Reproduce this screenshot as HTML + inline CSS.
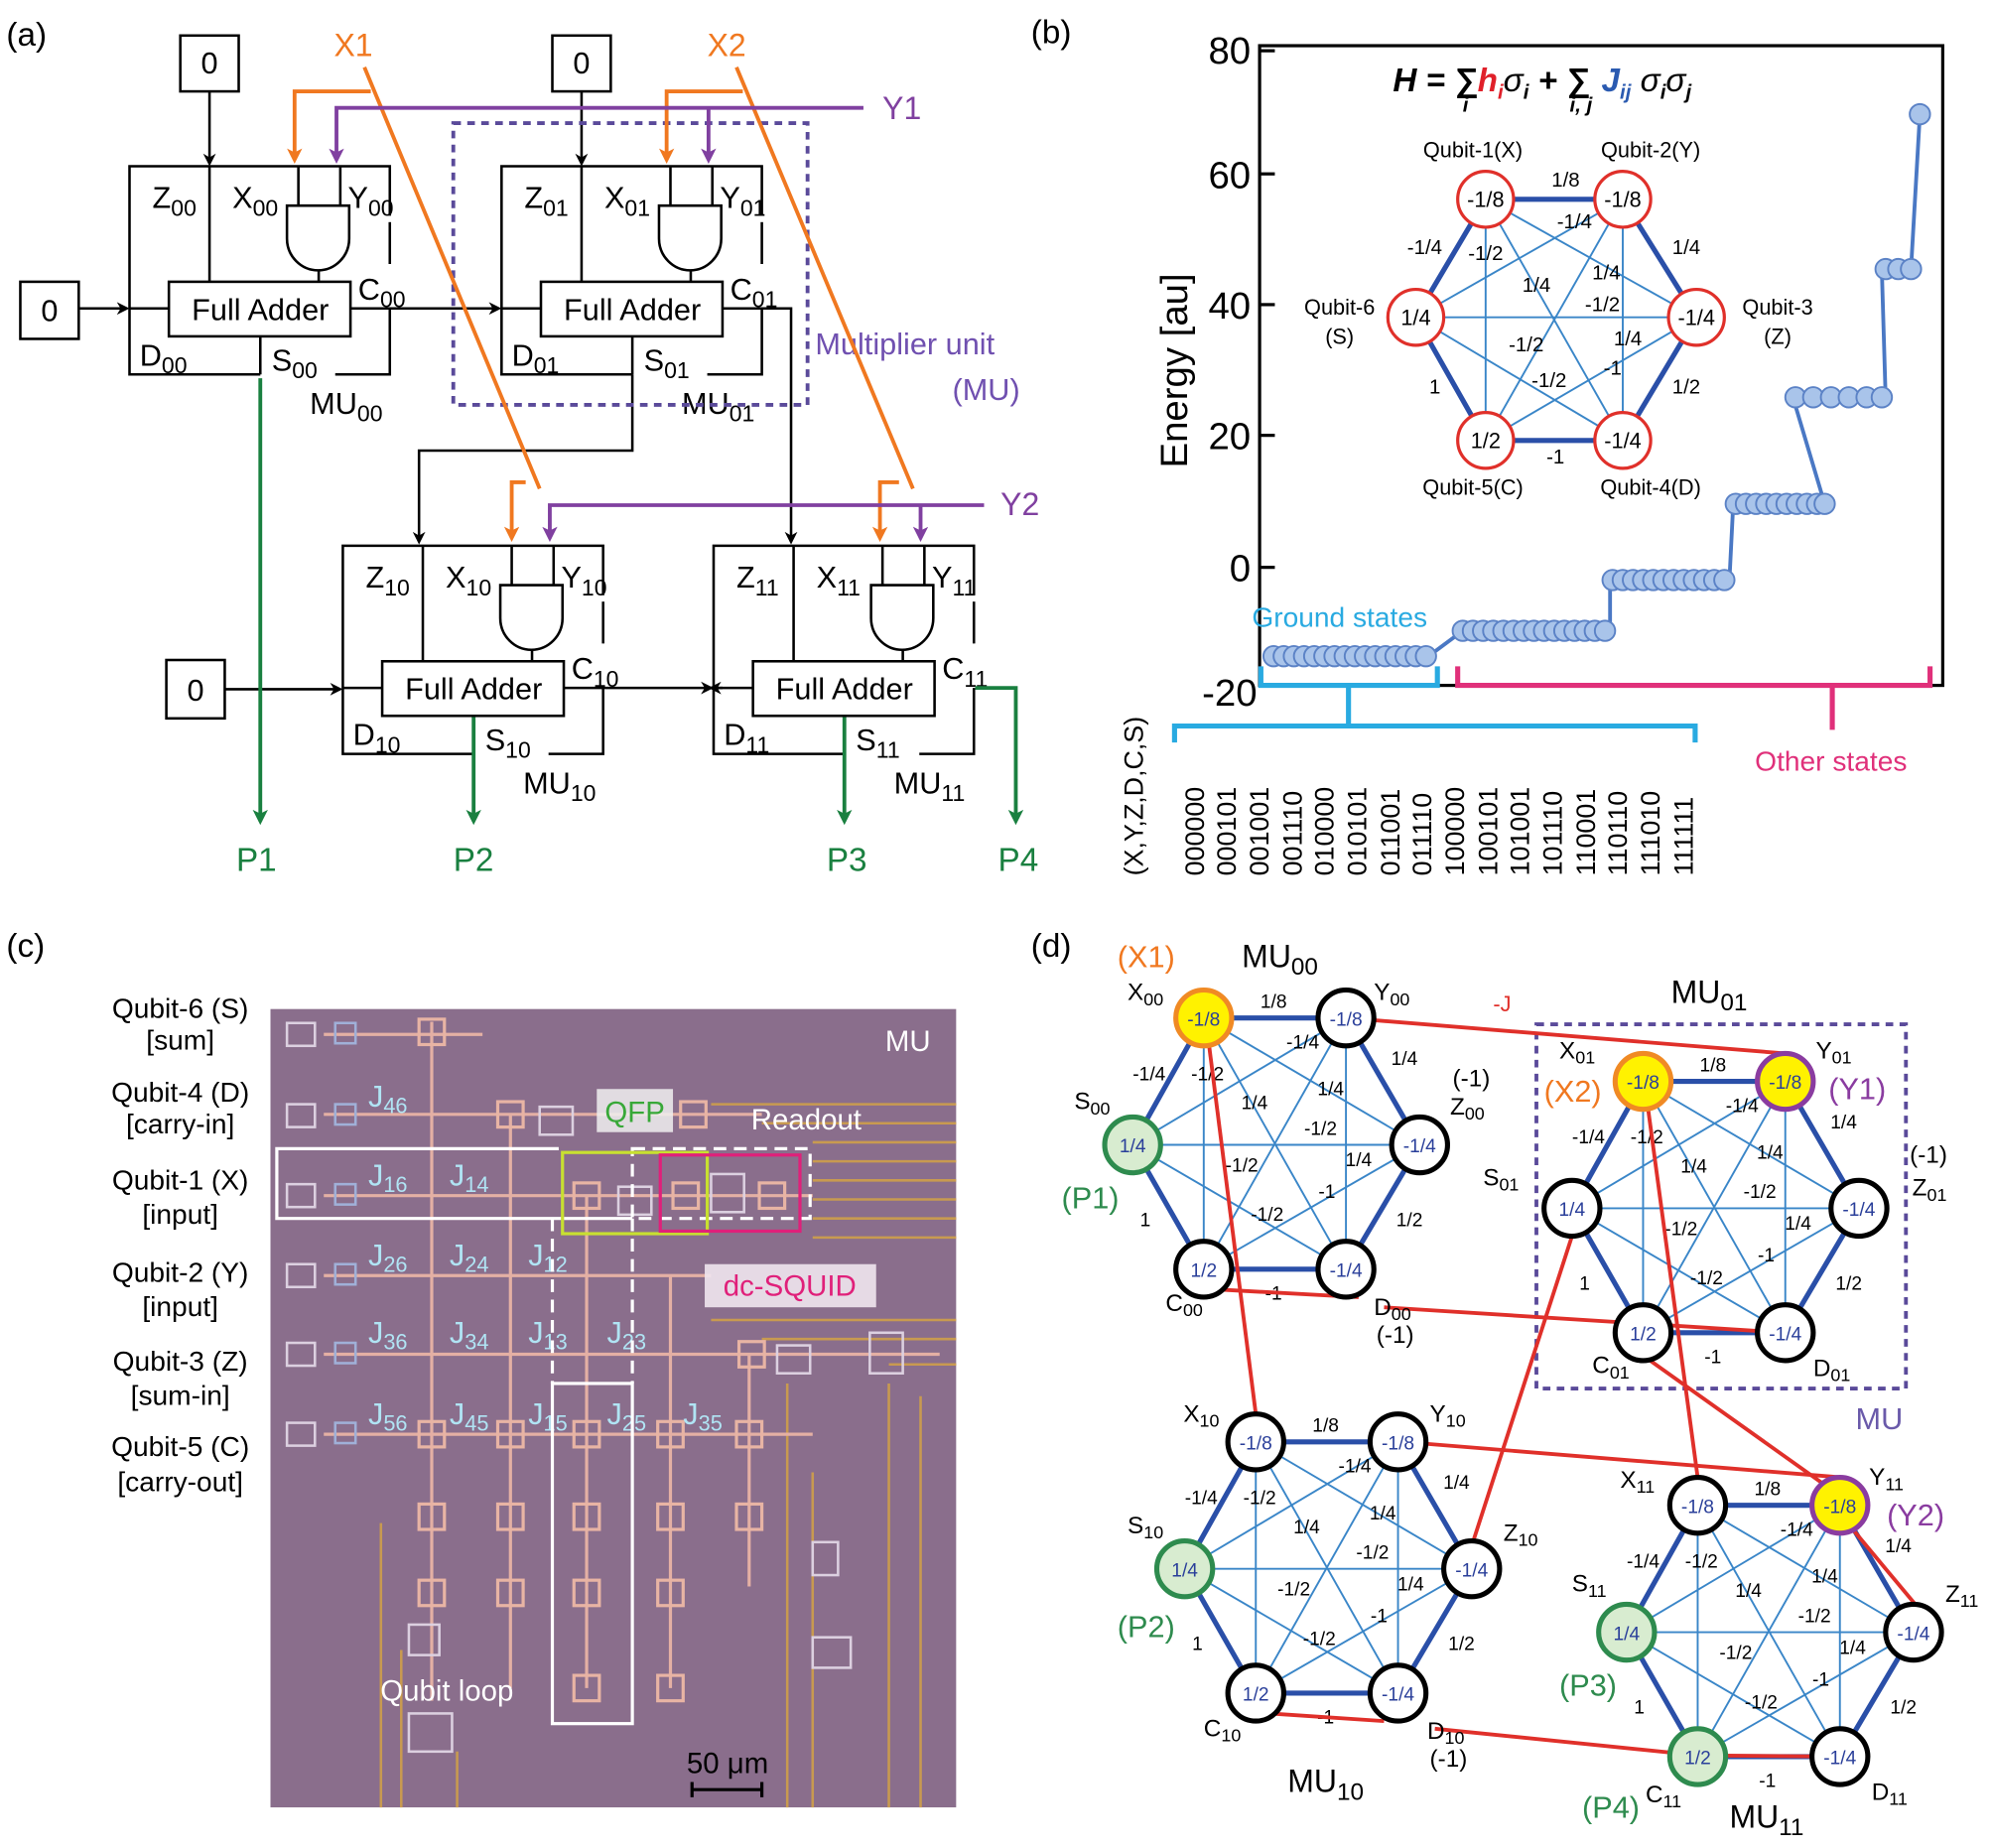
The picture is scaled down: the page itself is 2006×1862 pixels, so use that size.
<!DOCTYPE html>
<html><head><meta charset="utf-8"><style>
html,body{margin:0;padding:0;background:#fff}
svg{display:block}
text{font-family:"Liberation Sans",sans-serif}
</style></head><body>
<svg width="2006" height="1862" viewBox="0 0 1568 1456" preserveAspectRatio="none" xmlns="http://www.w3.org/2000/svg">
<defs>
<marker id="ak" markerWidth="10" markerHeight="10" refX="8" refY="5" orient="auto" markerUnits="userSpaceOnUse"><path d="M0,0 L10,5 L0,10 L3,5z" fill="#000"/></marker>
<marker id="ao" markerWidth="12" markerHeight="12" refX="9" refY="6" orient="auto" markerUnits="userSpaceOnUse"><path d="M0,0 L12,6 L0,12 L3,6z" fill="#f07820"/></marker>
<marker id="ap" markerWidth="12" markerHeight="12" refX="9" refY="6" orient="auto" markerUnits="userSpaceOnUse"><path d="M0,0 L12,6 L0,12 L3,6z" fill="#8040a0"/></marker>
<marker id="ag" markerWidth="12" markerHeight="12" refX="9" refY="6" orient="auto" markerUnits="userSpaceOnUse"><path d="M0,0 L12,6 L0,12 L3,6z" fill="#1a8040"/></marker>
</defs>

<!-- ===== Panel (a) ===== -->
<g font-size="24" fill="#000">
<text x="5" y="36" font-size="26">(a)</text>
<g stroke="#000" stroke-width="2" fill="none">
<rect x="142" y="28" width="46" height="44"/>
<rect x="435" y="28" width="46" height="44"/>
<rect x="16" y="222" width="46" height="45"/>
<rect x="131" y="520" width="46" height="46"/>
</g>
<text x="165" y="58" text-anchor="middle">0</text>
<text x="458" y="58" text-anchor="middle">0</text>
<text x="39" y="253" text-anchor="middle">0</text>
<text x="154" y="552" text-anchor="middle">0</text>

<!-- MU blocks -->
<g id="mu00">
<g stroke="#000" stroke-width="2" fill="none">
<path d="M307,170 V131 H102 V295 H205 M264,295 H307 V243"/>
<path d="M307,175 V208"/>
<line x1="165" y1="131" x2="165" y2="222"/>
<path d="M235,131 V162 M268,131 V162"/>
<path d="M226,162 H275 V188 A24.5,25 0 0 1 226,188 Z"/>
<line x1="251" y1="213" x2="251" y2="222"/>
<rect x="133" y="222" width="143" height="43"/>
<line x1="102" y1="243" x2="133" y2="243"/>
<line x1="205" y1="265" x2="205" y2="295"/>
</g>
<text x="205" y="252" text-anchor="middle" font-size="24">Full Adder</text>
</g>
<g transform="translate(293,0)">
<g stroke="#000" stroke-width="2" fill="none">
<path d="M307,170 V131 H102 V295 H205 M264,295 H307 V243"/>
<path d="M307,175 V208"/>
<line x1="165" y1="131" x2="165" y2="222"/>
<path d="M235,131 V162 M268,131 V162"/>
<path d="M226,162 H275 V188 A24.5,25 0 0 1 226,188 Z"/>
<line x1="251" y1="213" x2="251" y2="222"/>
<rect x="133" y="222" width="143" height="43"/>
<line x1="102" y1="243" x2="133" y2="243"/>
<line x1="205" y1="265" x2="205" y2="295"/>
</g>
<text x="205" y="252" text-anchor="middle" font-size="24">Full Adder</text>
</g>
<g transform="translate(168,299)">
<g stroke="#000" stroke-width="2" fill="none">
<path d="M307,170 V131 H102 V295 H205 M264,295 H307 V243"/>
<path d="M307,175 V208"/>
<line x1="165" y1="131" x2="165" y2="222"/>
<path d="M235,131 V162 M268,131 V162"/>
<path d="M226,162 H275 V188 A24.5,25 0 0 1 226,188 Z"/>
<line x1="251" y1="213" x2="251" y2="222"/>
<rect x="133" y="222" width="143" height="43"/>
<line x1="102" y1="243" x2="133" y2="243"/>
<line x1="205" y1="265" x2="205" y2="295"/>
</g>
<text x="205" y="252" text-anchor="middle" font-size="24">Full Adder</text>
</g>
<g transform="translate(460,299)">
<g stroke="#000" stroke-width="2" fill="none">
<path d="M307,170 V131 H102 V295 H205 M264,295 H307 V243"/>
<path d="M307,175 V208"/>
<line x1="165" y1="131" x2="165" y2="222"/>
<path d="M235,131 V162 M268,131 V162"/>
<path d="M226,162 H275 V188 A24.5,25 0 0 1 226,188 Z"/>
<line x1="251" y1="213" x2="251" y2="222"/>
<rect x="133" y="222" width="143" height="43"/>
<line x1="102" y1="243" x2="133" y2="243"/>
<line x1="205" y1="265" x2="205" y2="295"/>
</g>
<text x="205" y="252" text-anchor="middle" font-size="24">Full Adder</text>
</g>

<!-- black arrows -->
<g stroke="#000" stroke-width="2" fill="none" marker-end="url(#ak)">
<line x1="165" y1="72" x2="165" y2="129"/>
<line x1="458" y1="72" x2="458" y2="129"/>
<line x1="62" y1="243" x2="100" y2="243"/>
<line x1="276" y1="243" x2="393" y2="243"/>
<line x1="177" y1="543" x2="268" y2="543"/>
<line x1="569" y1="542" x2="560" y2="542"/>
<line x1="444" y1="542" x2="560" y2="542"/>
<path d="M498,295 V355 H330 V427"/>
<path d="M569,243 H623 V427"/>
</g>

<!-- labels -->
<g font-size="24">
<text x="120" y="164">Z<tspan font-size="18" dy="6">00</tspan></text>
<text x="183" y="164">X<tspan font-size="18" dy="6">00</tspan></text>
<text x="274" y="164">Y<tspan font-size="18" dy="6">00</tspan></text>
<text x="282" y="236">C<tspan font-size="18" dy="6">00</tspan></text>
<text x="110" y="288">D<tspan font-size="18" dy="6">00</tspan></text>
<text x="214" y="292">S<tspan font-size="18" dy="6">00</tspan></text>
<text x="244" y="326">MU<tspan font-size="18" dy="6">00</tspan></text>

<text x="413" y="164">Z<tspan font-size="18" dy="6">01</tspan></text>
<text x="476" y="164">X<tspan font-size="18" dy="6">01</tspan></text>
<text x="567" y="164">Y<tspan font-size="18" dy="6">01</tspan></text>
<text x="575" y="236">C<tspan font-size="18" dy="6">01</tspan></text>
<text x="403" y="288">D<tspan font-size="18" dy="6">01</tspan></text>
<text x="507" y="292">S<tspan font-size="18" dy="6">01</tspan></text>
<text x="537" y="326">MU<tspan font-size="18" dy="6">01</tspan></text>

<text x="288" y="463">Z<tspan font-size="18" dy="6">10</tspan></text>
<text x="351" y="463">X<tspan font-size="18" dy="6">10</tspan></text>
<text x="442" y="463">Y<tspan font-size="18" dy="6">10</tspan></text>
<text x="450" y="535">C<tspan font-size="18" dy="6">10</tspan></text>
<text x="278" y="587">D<tspan font-size="18" dy="6">10</tspan></text>
<text x="382" y="591">S<tspan font-size="18" dy="6">10</tspan></text>
<text x="412" y="625">MU<tspan font-size="18" dy="6">10</tspan></text>

<text x="580" y="463">Z<tspan font-size="18" dy="6">11</tspan></text>
<text x="643" y="463">X<tspan font-size="18" dy="6">11</tspan></text>
<text x="734" y="463">Y<tspan font-size="18" dy="6">11</tspan></text>
<text x="742" y="535">C<tspan font-size="18" dy="6">11</tspan></text>
<text x="570" y="587">D<tspan font-size="18" dy="6">11</tspan></text>
<text x="674" y="591">S<tspan font-size="18" dy="6">11</tspan></text>
<text x="704" y="625">MU<tspan font-size="18" dy="6">11</tspan></text>
</g>

<!-- dashed MU rect -->
<rect x="357" y="97" width="279" height="222" fill="none" stroke="#5a4a9a" stroke-width="3" stroke-dasharray="6,5"/>
<text x="642" y="279" fill="#7050b0" font-size="24">Multiplier unit</text>
<text x="750" y="315" fill="#7050b0" font-size="24">(MU)</text>

<!-- orange -->
<g stroke="#f07820" stroke-width="3" fill="none">
<line x1="287" y1="53" x2="425" y2="385"/>
<line x1="580" y1="53" x2="719" y2="385"/>
<path d="M292,72 H232 V126" marker-end="url(#ao)"/>
<path d="M585,72 H525 V126" marker-end="url(#ao)"/>
<path d="M414,380 H403 V424" marker-end="url(#ao)"/>
<path d="M708,380 H693 V424" marker-end="url(#ao)"/>
</g>
<text x="263" y="44" fill="#f07820" font-size="25">X1</text>
<text x="557" y="44" fill="#f07820" font-size="25">X2</text>
<!-- purple -->
<g stroke="#8040a0" stroke-width="3" fill="none">
<path d="M680,85 H265 V126" marker-end="url(#ap)"/>
<path d="M558,85 V126" marker-end="url(#ap)"/>
<path d="M775,398 H433 V424" marker-end="url(#ap)"/>
<path d="M725,398 V424" marker-end="url(#ap)"/>
</g>
<text x="695" y="94" fill="#8040a0" font-size="25">Y1</text>
<text x="788" y="406" fill="#8040a0" font-size="25">Y2</text>
<!-- green -->
<g stroke="#1a8040" stroke-width="3" fill="none">
<line x1="205" y1="298" x2="205" y2="647" marker-end="url(#ag)"/>
<line x1="373" y1="565" x2="373" y2="647" marker-end="url(#ag)"/>
<line x1="665" y1="565" x2="665" y2="647" marker-end="url(#ag)"/>
<path d="M768,542 H800 V647" marker-end="url(#ag)"/>
</g>
<g fill="#1a8040" font-size="26">
<text x="186" y="686">P1</text>
<text x="357" y="686">P2</text>
<text x="651" y="686">P3</text>
<text x="786" y="686">P4</text>
</g>
</g>

<!-- ===== Panel (b) ===== -->
<g>
<text x="812" y="34" font-size="26">(b)</text>
<rect x="992" y="36" width="538" height="504" fill="none" stroke="#000" stroke-width="2.5"/>
<g stroke="#000" stroke-width="2.5">
<line x1="992" y1="40" x2="1004" y2="40"/><line x1="992" y1="137" x2="1004" y2="137"/>
<line x1="992" y1="240" x2="1004" y2="240"/><line x1="992" y1="343" x2="1004" y2="343"/>
<line x1="992" y1="447" x2="1004" y2="447"/>
</g>
<g font-size="30" text-anchor="end">
<text x="985" y="50">80</text><text x="985" y="148">60</text><text x="985" y="251">40</text>
<text x="985" y="354">20</text><text x="985" y="458">0</text><text x="990" y="556">-20</text>
</g>
<text transform="translate(935,292) rotate(-90)" font-size="30" text-anchor="middle">Energy [au]</text>
<text x="1097" y="72" font-size="26" font-family="Liberation Serif" font-style="italic" font-weight="bold">H = ∑<tspan font-size="16" dx="-12" dy="16">i</tspan><tspan dy="-16" fill="#e0202a"> h</tspan><tspan font-size="16" dy="6" fill="#e0202a">i</tspan><tspan dy="-6" font-weight="normal">σ</tspan><tspan font-size="16" dy="6">i</tspan><tspan dy="-6">  + ∑</tspan><tspan font-size="16" dx="-16" dy="16">i, j</tspan><tspan dy="-16" fill="#2a5ab0"> J</tspan><tspan font-size="16" dy="6" fill="#2a5ab0">ij</tspan><tspan dy="-6" font-weight="normal"> σ</tspan><tspan font-size="16" dy="6">i</tspan><tspan dy="-6" font-weight="normal">σ</tspan><tspan font-size="16" dy="6">j</tspan></text>
<!-- qubit hex -->
<g stroke-width="1.5" stroke="#3a86c8">
<line x1="1170" y1="157" x2="1336" y2="250"/><line x1="1170" y1="157" x2="1278" y2="347"/><line x1="1170" y1="157" x2="1170" y2="347"/>
<line x1="1278" y1="157" x2="1278" y2="347"/><line x1="1278" y1="157" x2="1170" y2="347"/><line x1="1278" y1="157" x2="1115" y2="250"/>
<line x1="1336" y1="250" x2="1170" y2="347"/><line x1="1336" y1="250" x2="1115" y2="250"/><line x1="1278" y1="347" x2="1115" y2="250"/>
</g>
<polygon points="1170,157 1278,157 1336,250 1278,347 1170,347 1115,250" fill="none" stroke="#2a4fa8" stroke-width="4"/>
<g fill="#fff" stroke="#e0302a" stroke-width="2.5">
<circle cx="1170" cy="157" r="22"/><circle cx="1278" cy="157" r="22"/><circle cx="1336" cy="250" r="22"/>
<circle cx="1278" cy="347" r="22"/><circle cx="1170" cy="347" r="22"/><circle cx="1115" cy="250" r="22"/>
</g>
<g font-size="17" text-anchor="middle">
<text x="1170" y="163">-1/8</text><text x="1278" y="163">-1/8</text><text x="1336" y="256">-1/4</text>
<text x="1278" y="353">-1/4</text><text x="1170" y="353">1/2</text><text x="1115" y="256">1/4</text>
</g>
<g font-size="17" text-anchor="middle">
<text x="1160" y="124">Qubit-1(X)</text><text x="1300" y="124">Qubit-2(Y)</text>
<text x="1055" y="248">Qubit-6</text><text x="1055" y="271">(S)</text>
<text x="1400" y="248">Qubit-3</text><text x="1400" y="271">(Z)</text>
<text x="1160" y="390">Qubit-5(C)</text><text x="1300" y="390">Qubit-4(D)</text>
</g>
<g font-size="16" text-anchor="middle">
<text x="1233" y="147">1/8</text><text x="1122" y="200">-1/4</text><text x="1170" y="205">-1/2</text>
<text x="1240" y="180">-1/4</text><text x="1328" y="200">1/4</text><text x="1210" y="230">1/4</text>
<text x="1265" y="220">1/4</text><text x="1262" y="245">-1/2</text><text x="1202" y="277">-1/2</text>
<text x="1282" y="272">1/4</text><text x="1220" y="305">-1/2</text><text x="1270" y="295">-1</text>
<text x="1130" y="310">1</text><text x="1328" y="310">1/2</text><text x="1225" y="365">-1</text>
</g>
<!-- data -->
<path d="M1003,517 H1125 L1152,497 H1268 L1268,457 H1362 L1365,397 H1437 L1412,313 H1485 L1482,212 H1505 L1512,90" fill="none" stroke="#4a78c4" stroke-width="3"/>
<g fill="#a9c4ea" stroke="#5b82c6" stroke-width="1.5">
<circle cx="1003" cy="517" r="8"/><circle cx="1011" cy="517" r="8"/><circle cx="1019" cy="517" r="8"/><circle cx="1027" cy="517" r="8"/><circle cx="1035" cy="517" r="8"/><circle cx="1043" cy="517" r="8"/><circle cx="1051" cy="517" r="8"/><circle cx="1059" cy="517" r="8"/><circle cx="1067" cy="517" r="8"/><circle cx="1075" cy="517" r="8"/><circle cx="1083" cy="517" r="8"/><circle cx="1091" cy="517" r="8"/><circle cx="1099" cy="517" r="8"/><circle cx="1107" cy="517" r="8"/><circle cx="1115" cy="517" r="8"/><circle cx="1123" cy="517" r="8"/>
<circle cx="1152" cy="497" r="8"/><circle cx="1160" cy="497" r="8"/><circle cx="1168" cy="497" r="8"/><circle cx="1176" cy="497" r="8"/><circle cx="1184" cy="497" r="8"/><circle cx="1192" cy="497" r="8"/><circle cx="1200" cy="497" r="8"/><circle cx="1208" cy="497" r="8"/><circle cx="1216" cy="497" r="8"/><circle cx="1224" cy="497" r="8"/><circle cx="1232" cy="497" r="8"/><circle cx="1240" cy="497" r="8"/><circle cx="1248" cy="497" r="8"/><circle cx="1256" cy="497" r="8"/><circle cx="1264" cy="497" r="8"/>
<circle cx="1270" cy="457" r="8"/><circle cx="1278" cy="457" r="8"/><circle cx="1286" cy="457" r="8"/><circle cx="1294" cy="457" r="8"/><circle cx="1302" cy="457" r="8"/><circle cx="1310" cy="457" r="8"/><circle cx="1318" cy="457" r="8"/><circle cx="1326" cy="457" r="8"/><circle cx="1334" cy="457" r="8"/><circle cx="1342" cy="457" r="8"/><circle cx="1350" cy="457" r="8"/><circle cx="1358" cy="457" r="8"/>
<circle cx="1367" cy="397" r="8"/><circle cx="1375" cy="397" r="8"/><circle cx="1383" cy="397" r="8"/><circle cx="1391" cy="397" r="8"/><circle cx="1399" cy="397" r="8"/><circle cx="1407" cy="397" r="8"/><circle cx="1415" cy="397" r="8"/><circle cx="1423" cy="397" r="8"/><circle cx="1431" cy="397" r="8"/><circle cx="1437" cy="397" r="8"/>
<circle cx="1414" cy="313" r="8"/><circle cx="1428" cy="313" r="8"/><circle cx="1442" cy="313" r="8"/><circle cx="1456" cy="313" r="8"/><circle cx="1470" cy="313" r="8"/><circle cx="1482" cy="313" r="8"/>
<circle cx="1485" cy="212" r="8"/><circle cx="1495" cy="212" r="8"/><circle cx="1505" cy="212" r="8"/>
<circle cx="1512" cy="90" r="8"/>
</g>
<text x="1055" y="494" fill="#29aae1" font-size="22" text-anchor="middle">Ground states</text>
<path d="M993,525 V540 H1132 V525" fill="none" stroke="#29aae1" stroke-width="4"/>
<path d="M1148,525 V540 H1520 V525 M1443,540 V575" fill="none" stroke="#e0307a" stroke-width="4"/>
<text x="1442" y="607" fill="#e0307a" font-size="22" text-anchor="middle">Other states</text>
<path d="M1062,540 V570 M925,585 V572 H1335 V585" fill="none" stroke="#29aae1" stroke-width="4"/>
<g font-size="21">
<text transform="translate(900,690) rotate(-90)">(X,Y,Z,D,C,S)</text>
<text transform="translate(948,690) rotate(-90)">000000</text>
<text transform="translate(973,690) rotate(-90)">000101</text>
<text transform="translate(999,690) rotate(-90)">001001</text>
<text transform="translate(1025,690) rotate(-90)">001110</text>
<text transform="translate(1050,690) rotate(-90)">010000</text>
<text transform="translate(1076,690) rotate(-90)">010101</text>
<text transform="translate(1102,690) rotate(-90)">011001</text>
<text transform="translate(1127,690) rotate(-90)">011110</text>
<text transform="translate(1153,690) rotate(-90)">100000</text>
<text transform="translate(1179,690) rotate(-90)">100101</text>
<text transform="translate(1204,690) rotate(-90)">101001</text>
<text transform="translate(1230,690) rotate(-90)">101110</text>
<text transform="translate(1256,690) rotate(-90)">110001</text>
<text transform="translate(1281,690) rotate(-90)">110110</text>
<text transform="translate(1307,690) rotate(-90)">111010</text>
<text transform="translate(1333,690) rotate(-90)">111111</text>
</g>
</g>

<!-- ===== Panel (c) ===== -->
<g>
<text x="5" y="754" font-size="26">(c)</text>
<g font-size="22" text-anchor="middle">
<text x="142" y="802">Qubit-6 (S)</text><text x="142" y="827">[sum]</text>
<text x="142" y="868">Qubit-4 (D)</text><text x="142" y="893">[carry-in]</text>
<text x="142" y="937">Qubit-1 (X)</text><text x="142" y="964">[input]</text>
<text x="142" y="1010">Qubit-2 (Y)</text><text x="142" y="1037">[input]</text>
<text x="142" y="1080">Qubit-3 (Z)</text><text x="142" y="1107">[sum-in]</text>
<text x="142" y="1147">Qubit-5 (C)</text><text x="142" y="1175">[carry-out]</text>
</g>
<rect x="213" y="795" width="540" height="629" fill="#8a6e8c"/>
<!-- gold readout lines -->
<g stroke="#c89a50" stroke-width="2" fill="none">
<path d="M560,870 H753 M600,885 H753 M640,900 H753 M640,915 H753 M640,930 H753 M640,945 H753 M640,960 H753 M640,975 H753"/>
<path d="M560,1040 H753 M600,1055 H753 M700,1075 H753 M620,1090 V1424 M640,1160 V1424 M700,1090 V1424 M725,1100 V1424"/>
<path d="M300,1200 V1424 M316,1300 V1424 M360,1380 V1424"/>
</g>
<!-- pink grid -->
<g stroke="#e4b0a4" stroke-width="2.5" fill="none">
<path d="M255,815 H380 M255,878 H600 M255,942 H640 M255,1005 H560 M255,1067 H740 M255,1130 H640"/>
<path d="M340,805 V1340 M402,878 V1330 M462,942 V1330 M528,1005 V1330 M590,1067 V1250"/>
</g>
<g fill="none" stroke="#e8b4a4" stroke-width="2.5">
<rect x="330" y="803" width="20" height="20"/>
<rect x="392" y="868" width="20" height="20"/><rect x="536" y="868" width="20" height="20"/>
<rect x="452" y="932" width="20" height="20"/><rect x="530" y="932" width="20" height="20"/><rect x="598" y="932" width="20" height="20"/>
<rect x="582" y="1057" width="20" height="20"/>
<rect x="330" y="1120" width="20" height="20"/><rect x="392" y="1120" width="20" height="20"/><rect x="452" y="1120" width="20" height="20"/><rect x="518" y="1120" width="20" height="20"/><rect x="580" y="1120" width="20" height="20"/>
<rect x="330" y="1185" width="20" height="20"/><rect x="392" y="1185" width="20" height="20"/><rect x="452" y="1185" width="20" height="20"/><rect x="518" y="1185" width="20" height="20"/><rect x="580" y="1185" width="20" height="20"/>
<rect x="330" y="1245" width="20" height="20"/><rect x="392" y="1245" width="20" height="20"/><rect x="452" y="1245" width="20" height="20"/><rect x="518" y="1245" width="20" height="20"/>
<rect x="452" y="1320" width="20" height="20"/><rect x="518" y="1320" width="20" height="20"/>
</g>
<g fill="none" stroke="#dcd0e0" stroke-width="2">
<rect x="226" y="806" width="22" height="18"/><rect x="226" y="870" width="22" height="18"/><rect x="226" y="933" width="22" height="18"/>
<rect x="226" y="996" width="22" height="18"/><rect x="226" y="1058" width="22" height="18"/><rect x="226" y="1121" width="22" height="18"/>
<rect x="264" y="806" width="16" height="16" stroke="#a0b0d8"/><rect x="264" y="870" width="16" height="16" stroke="#a0b0d8"/><rect x="264" y="933" width="16" height="16" stroke="#a0b0d8"/>
<rect x="264" y="996" width="16" height="16" stroke="#a0b0d8"/><rect x="264" y="1058" width="16" height="16" stroke="#a0b0d8"/><rect x="264" y="1121" width="16" height="16" stroke="#a0b0d8"/>
<rect x="425" y="872" width="26" height="22"/><rect x="487" y="935" width="26" height="22"/><rect x="560" y="925" width="26" height="30"/>
<rect x="612" y="1060" width="26" height="22"/><rect x="685" y="1050" width="26" height="32"/>
<rect x="322" y="1280" width="24" height="24"/><rect x="322" y="1350" width="34" height="30"/>
<rect x="640" y="1215" width="20" height="26"/><rect x="640" y="1290" width="30" height="24"/>
</g>
<g fill="#b0e4f4" font-size="24">
<text x="290" y="872">J<tspan font-size="17" dy="5">46</tspan></text>
<text x="290" y="934">J<tspan font-size="17" dy="5">16</tspan></text>
<text x="354" y="934">J<tspan font-size="17" dy="5">14</tspan></text>
<text x="290" y="997">J<tspan font-size="17" dy="5">26</tspan></text>
<text x="354" y="997">J<tspan font-size="17" dy="5">24</tspan></text>
<text x="416" y="997">J<tspan font-size="17" dy="5">12</tspan></text>
<text x="290" y="1058">J<tspan font-size="17" dy="5">36</tspan></text>
<text x="354" y="1058">J<tspan font-size="17" dy="5">34</tspan></text>
<text x="416" y="1058">J<tspan font-size="17" dy="5">13</tspan></text>
<text x="478" y="1058">J<tspan font-size="17" dy="5">23</tspan></text>
<text x="290" y="1122">J<tspan font-size="17" dy="5">56</tspan></text>
<text x="354" y="1122">J<tspan font-size="17" dy="5">45</tspan></text>
<text x="416" y="1122">J<tspan font-size="17" dy="5">15</tspan></text>
<text x="478" y="1122">J<tspan font-size="17" dy="5">25</tspan></text>
<text x="538" y="1122">J<tspan font-size="17" dy="5">35</tspan></text>
</g>
<g fill="none" stroke-width="2.5">
<path d="M440,905 H218 V960 H498" stroke="#ffffff"/>
<rect x="435" y="1090" width="63" height="268" stroke="#ffffff"/>
<path d="M435,960 V1090 M498,960 V1090" stroke="#ffffff" stroke-dasharray="10,6"/>
<rect x="498" y="905" width="140" height="55" stroke="#ffffff" stroke-dasharray="10,6"/>
<rect x="443" y="908" width="114" height="64" stroke="#c8e030"/>
<rect x="520" y="910" width="110" height="60" stroke="#e0207a"/>
</g>
<rect x="470" y="858" width="60" height="34" fill="#f0f0f0" opacity="0.85"/>
<text x="500" y="884" fill="#38a838" font-size="23" text-anchor="middle">QFP</text>
<text x="635" y="890" fill="#fff" font-size="23" text-anchor="middle">Readout</text>
<rect x="555" y="996" width="135" height="34" fill="#f0e6ee" opacity="0.9"/>
<text x="622" y="1021" fill="#e0207a" font-size="23" text-anchor="middle">dc-SQUID</text>
<text x="715" y="828" fill="#fff" font-size="23" text-anchor="middle">MU</text>
<text x="352" y="1340" fill="#fff" font-size="23" text-anchor="middle">Qubit loop</text>
<text x="573" y="1397" fill="#000" font-size="23" text-anchor="middle">50 μm</text>
<path d="M545,1404 V1416 M545,1410 H600 M600,1404 V1416" stroke="#000" stroke-width="2.5" fill="none"/>
</g>

<!-- ===== Panel (d) ===== -->
<g>
<text x="812" y="754" font-size="26">(d)</text>
<rect x="1210" y="807" width="291" height="287" fill="none" stroke="#5a4a9a" stroke-width="3" stroke-dasharray="6,5"/>
<text x="1480" y="1126" fill="#6a5aaa" font-size="24" text-anchor="middle">MU</text>

<!-- hex template copies -->
<g transform="translate(948,802)">
<g stroke="#3a86c8" stroke-width="1.5">
<line x1="0" y1="0" x2="170" y2="100"/><line x1="0" y1="0" x2="112" y2="198"/><line x1="0" y1="0" x2="0" y2="198"/>
<line x1="112" y1="0" x2="112" y2="198"/><line x1="112" y1="0" x2="0" y2="198"/><line x1="112" y1="0" x2="-56" y2="100"/>
<line x1="170" y1="100" x2="0" y2="198"/><line x1="170" y1="100" x2="-56" y2="100"/><line x1="112" y1="198" x2="-56" y2="100"/>
</g>
<polygon points="0,0 112,0 170,100 112,198 0,198 -56,100" fill="none" stroke="#2a4fa8" stroke-width="4"/>
<g font-size="15" text-anchor="middle">
<text x="55" y="-8">1/8</text><text x="-43" y="49">-1/4</text><text x="3" y="49">-1/2</text><text x="158" y="37">1/4</text>
<text x="78" y="24">-1/4</text><text x="100" y="61">1/4</text><text x="40" y="72">1/4</text><text x="92" y="92">-1/2</text>
<text x="122" y="117">1/4</text><text x="30" y="121">-1/2</text><text x="97" y="142">-1</text><text x="50" y="160">-1/2</text>
<text x="-46" y="164">1</text><text x="162" y="164">1/2</text><text x="55" y="222">-1</text>
</g>
</g>
<g transform="translate(1294,852)">
<g stroke="#3a86c8" stroke-width="1.5">
<line x1="0" y1="0" x2="170" y2="100"/><line x1="0" y1="0" x2="112" y2="198"/><line x1="0" y1="0" x2="0" y2="198"/>
<line x1="112" y1="0" x2="112" y2="198"/><line x1="112" y1="0" x2="0" y2="198"/><line x1="112" y1="0" x2="-56" y2="100"/>
<line x1="170" y1="100" x2="0" y2="198"/><line x1="170" y1="100" x2="-56" y2="100"/><line x1="112" y1="198" x2="-56" y2="100"/>
</g>
<polygon points="0,0 112,0 170,100 112,198 0,198 -56,100" fill="none" stroke="#2a4fa8" stroke-width="4"/>
<g font-size="15" text-anchor="middle">
<text x="55" y="-8">1/8</text><text x="-43" y="49">-1/4</text><text x="3" y="49">-1/2</text><text x="158" y="37">1/4</text>
<text x="78" y="24">-1/4</text><text x="100" y="61">1/4</text><text x="40" y="72">1/4</text><text x="92" y="92">-1/2</text>
<text x="122" y="117">1/4</text><text x="30" y="121">-1/2</text><text x="97" y="142">-1</text><text x="50" y="160">-1/2</text>
<text x="-46" y="164">1</text><text x="162" y="164">1/2</text><text x="55" y="222">-1</text>
</g>
</g>
<g transform="translate(989,1136)">
<g stroke="#3a86c8" stroke-width="1.5">
<line x1="0" y1="0" x2="170" y2="100"/><line x1="0" y1="0" x2="112" y2="198"/><line x1="0" y1="0" x2="0" y2="198"/>
<line x1="112" y1="0" x2="112" y2="198"/><line x1="112" y1="0" x2="0" y2="198"/><line x1="112" y1="0" x2="-56" y2="100"/>
<line x1="170" y1="100" x2="0" y2="198"/><line x1="170" y1="100" x2="-56" y2="100"/><line x1="112" y1="198" x2="-56" y2="100"/>
</g>
<polygon points="0,0 112,0 170,100 112,198 0,198 -56,100" fill="none" stroke="#2a4fa8" stroke-width="4"/>
<g font-size="15" text-anchor="middle">
<text x="55" y="-8">1/8</text><text x="-43" y="49">-1/4</text><text x="3" y="49">-1/2</text><text x="158" y="37">1/4</text>
<text x="78" y="24">-1/4</text><text x="100" y="61">1/4</text><text x="40" y="72">1/4</text><text x="92" y="92">-1/2</text>
<text x="122" y="117">1/4</text><text x="30" y="121">-1/2</text><text x="97" y="142">-1</text><text x="50" y="160">-1/2</text>
<text x="-46" y="164">1</text><text x="162" y="164">1/2</text><text x="55" y="222">-1</text>
</g>
</g>
<g transform="translate(1337,1186)">
<g stroke="#3a86c8" stroke-width="1.5">
<line x1="0" y1="0" x2="170" y2="100"/><line x1="0" y1="0" x2="112" y2="198"/><line x1="0" y1="0" x2="0" y2="198"/>
<line x1="112" y1="0" x2="112" y2="198"/><line x1="112" y1="0" x2="0" y2="198"/><line x1="112" y1="0" x2="-56" y2="100"/>
<line x1="170" y1="100" x2="0" y2="198"/><line x1="170" y1="100" x2="-56" y2="100"/><line x1="112" y1="198" x2="-56" y2="100"/>
</g>
<polygon points="0,0 112,0 170,100 112,198 0,198 -56,100" fill="none" stroke="#2a4fa8" stroke-width="4"/>
<g font-size="15" text-anchor="middle">
<text x="55" y="-8">1/8</text><text x="-43" y="49">-1/4</text><text x="3" y="49">-1/2</text><text x="158" y="37">1/4</text>
<text x="78" y="24">-1/4</text><text x="100" y="61">1/4</text><text x="40" y="72">1/4</text><text x="92" y="92">-1/2</text>
<text x="122" y="117">1/4</text><text x="30" y="121">-1/2</text><text x="97" y="142">-1</text><text x="50" y="160">-1/2</text>
<text x="-46" y="164">1</text><text x="162" y="164">1/2</text><text x="55" y="222">-1</text>
</g>
</g>

<!-- red inter-MU couplings -->
<g stroke="#e0302a" stroke-width="3" fill="none">
<line x1="1060" y1="802" x2="1406" y2="830"/>
<line x1="952" y1="822" x2="989" y2="1114"/>
<line x1="960" y1="1016" x2="1070" y2="1022"/>
<line x1="1090" y1="1030" x2="1406" y2="1050"/>
<line x1="1298" y1="874" x2="1337" y2="1164"/>
<line x1="1238" y1="974" x2="1160" y2="1215"/>
<line x1="1294" y1="1068" x2="1440" y2="1172"/>
<line x1="1104" y1="1136" x2="1450" y2="1164"/>
<line x1="1455" y1="1200" x2="1510" y2="1266"/>
<line x1="1000" y1="1350" x2="1090" y2="1356"/>
<line x1="1130" y1="1362" x2="1337" y2="1383"/>
<line x1="1337" y1="1383" x2="1450" y2="1384"/>
</g>
<text x="1183" y="797" fill="#e0302a" font-size="17" text-anchor="middle">-J</text>

<!-- nodes -->
<g stroke-width="4">
<circle cx="948" cy="802" r="22" fill="#fff200" stroke="#f08a24"/><circle cx="1060" cy="802" r="22" fill="#fff" stroke="#000"/>
<circle cx="1118" cy="902" r="22" fill="#fff" stroke="#000"/><circle cx="1060" cy="1000" r="22" fill="#fff" stroke="#000"/>
<circle cx="948" cy="1000" r="22" fill="#fff" stroke="#000"/><circle cx="892" cy="902" r="22" fill="#d8ecd0" stroke="#2e8b4e"/>

<circle cx="1294" cy="852" r="22" fill="#fff200" stroke="#f08a24"/><circle cx="1406" cy="852" r="22" fill="#fff200" stroke="#8a3ca0"/>
<circle cx="1464" cy="952" r="22" fill="#fff" stroke="#000"/><circle cx="1406" cy="1050" r="22" fill="#fff" stroke="#000"/>
<circle cx="1294" cy="1050" r="22" fill="#fff" stroke="#000"/><circle cx="1238" cy="952" r="22" fill="#fff" stroke="#000"/>

<circle cx="989" cy="1136" r="22" fill="#fff" stroke="#000"/><circle cx="1101" cy="1136" r="22" fill="#fff" stroke="#000"/>
<circle cx="1159" cy="1236" r="22" fill="#fff" stroke="#000"/><circle cx="1101" cy="1334" r="22" fill="#fff" stroke="#000"/>
<circle cx="989" cy="1334" r="22" fill="#fff" stroke="#000"/><circle cx="933" cy="1236" r="22" fill="#d8ecd0" stroke="#2e8b4e"/>

<circle cx="1337" cy="1186" r="22" fill="#fff" stroke="#000"/><circle cx="1449" cy="1186" r="22" fill="#fff200" stroke="#8a3ca0"/>
<circle cx="1507" cy="1286" r="22" fill="#fff" stroke="#000"/><circle cx="1449" cy="1384" r="22" fill="#fff" stroke="#000"/>
<circle cx="1337" cy="1384" r="22" fill="#d8ecd0" stroke="#2e8b4e"/><circle cx="1281" cy="1286" r="22" fill="#d8ecd0" stroke="#2e8b4e"/>
</g>
<g font-size="15" text-anchor="middle" fill="#2a3f9a">
<text x="948" y="808">-1/8</text><text x="1060" y="808">-1/8</text><text x="1118" y="908">-1/4</text><text x="1060" y="1006">-1/4</text><text x="948" y="1006">1/2</text><text x="892" y="908">1/4</text>
<text x="1294" y="858">-1/8</text><text x="1406" y="858">-1/8</text><text x="1464" y="958">-1/4</text><text x="1406" y="1056">-1/4</text><text x="1294" y="1056">1/2</text><text x="1238" y="958">1/4</text>
<text x="989" y="1142">-1/8</text><text x="1101" y="1142">-1/8</text><text x="1159" y="1242">-1/4</text><text x="1101" y="1340">-1/4</text><text x="989" y="1340">1/2</text><text x="933" y="1242">1/4</text>
<text x="1337" y="1192">-1/8</text><text x="1449" y="1192">-1/8</text><text x="1507" y="1292">-1/4</text><text x="1449" y="1390">-1/4</text><text x="1337" y="1390">1/2</text><text x="1281" y="1292">1/4</text>
</g>

<!-- node name labels -->
<g font-size="19">
<text x="888" y="788">X<tspan font-size="14" dy="4">00</tspan></text>
<text x="1082" y="788">Y<tspan font-size="14" dy="4">00</tspan></text>
<text x="1142" y="878">Z<tspan font-size="14" dy="4">00</tspan></text>
<text x="1144" y="856">(-1)</text>
<text x="846" y="874">S<tspan font-size="14" dy="4">00</tspan></text>
<text x="918" y="1033">C<tspan font-size="14" dy="4">00</tspan></text>
<text x="1082" y="1036">D<tspan font-size="14" dy="4">00</tspan></text>
<text x="1084" y="1058">(-1)</text>

<text x="1228" y="834">X<tspan font-size="14" dy="4">01</tspan></text>
<text x="1430" y="834">Y<tspan font-size="14" dy="4">01</tspan></text>
<text x="1504" y="916">(-1)</text>
<text x="1506" y="942">Z<tspan font-size="14" dy="4">01</tspan></text>
<text x="1168" y="934">S<tspan font-size="14" dy="4">01</tspan></text>
<text x="1254" y="1082">C<tspan font-size="14" dy="4">01</tspan></text>
<text x="1428" y="1084">D<tspan font-size="14" dy="4">01</tspan></text>

<text x="932" y="1120">X<tspan font-size="14" dy="4">10</tspan></text>
<text x="1126" y="1120">Y<tspan font-size="14" dy="4">10</tspan></text>
<text x="1184" y="1214">Z<tspan font-size="14" dy="4">10</tspan></text>
<text x="888" y="1208">S<tspan font-size="14" dy="4">10</tspan></text>
<text x="948" y="1368">C<tspan font-size="14" dy="4">10</tspan></text>
<text x="1124" y="1370">D<tspan font-size="14" dy="4">10</tspan></text>
<text x="1126" y="1392">(-1)</text>

<text x="1276" y="1172">X<tspan font-size="14" dy="4">11</tspan></text>
<text x="1472" y="1170">Y<tspan font-size="14" dy="4">11</tspan></text>
<text x="1532" y="1262">Z<tspan font-size="14" dy="4">11</tspan></text>
<text x="1238" y="1254">S<tspan font-size="14" dy="4">11</tspan></text>
<text x="1296" y="1420">C<tspan font-size="14" dy="4">11</tspan></text>
<text x="1474" y="1418">D<tspan font-size="14" dy="4">11</tspan></text>
</g>
<g font-size="25">
<text x="978" y="762">MU<tspan font-size="19" dy="6">00</tspan></text>
<text x="1316" y="790">MU<tspan font-size="19" dy="6">01</tspan></text>
<text x="1014" y="1412">MU<tspan font-size="19" dy="6">10</tspan></text>
<text x="1362" y="1440">MU<tspan font-size="19" dy="6">11</tspan></text>
</g>
<g font-size="24">
<text x="880" y="762" fill="#f07820">(X1)</text>
<text x="1216" y="868" fill="#f07820">(X2)</text>
<text x="1440" y="866" fill="#8a3ca0">(Y1)</text>
<text x="1486" y="1202" fill="#8a3ca0">(Y2)</text>
<text x="836" y="952" fill="#2e8b4e">(P1)</text>
<text x="880" y="1290" fill="#2e8b4e">(P2)</text>
<text x="1228" y="1336" fill="#2e8b4e">(P3)</text>
<text x="1246" y="1432" fill="#2e8b4e">(P4)</text>
</g>
</g>
</svg>
</body></html>
